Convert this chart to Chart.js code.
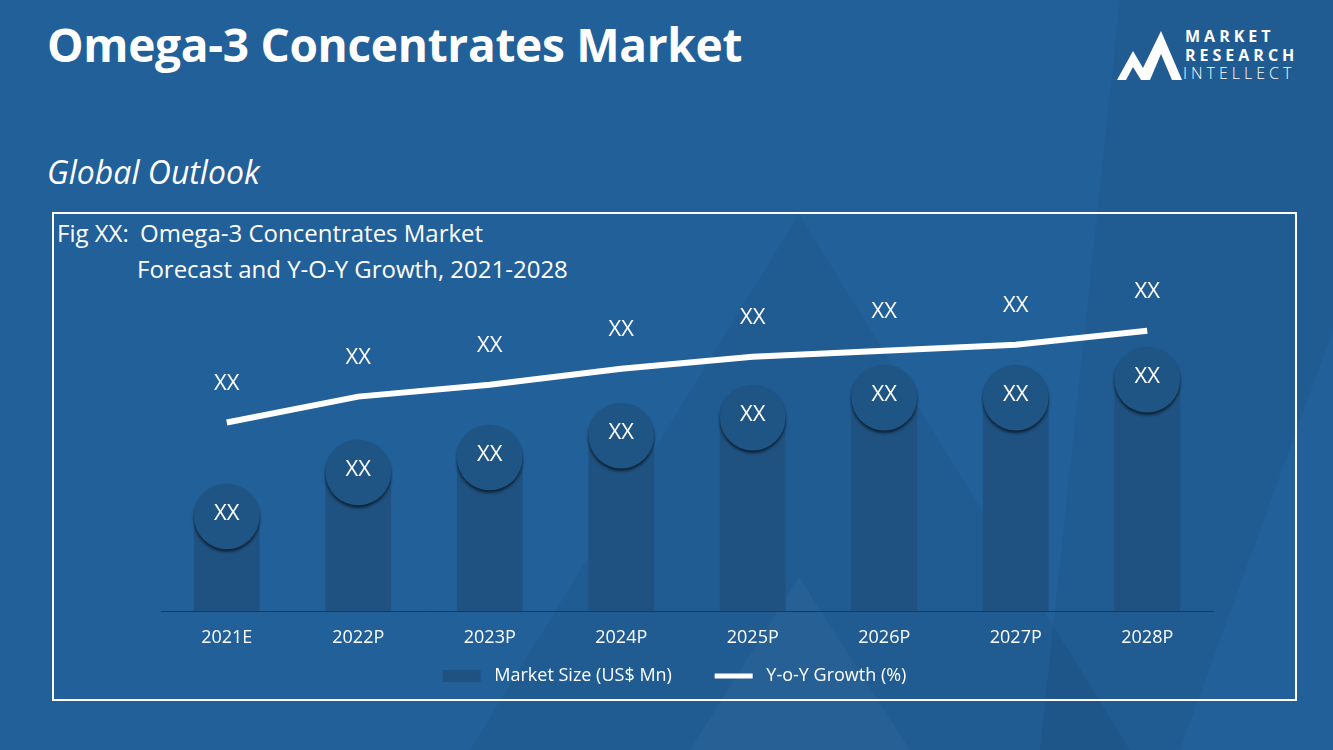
<!DOCTYPE html>
<html><head><meta charset="utf-8">
<script src="https://cdn.jsdelivr.net/npm/chart.js@4.4.0/dist/chart.umd.min.js"></script>
<style>
html,body{margin:0;padding:0;}
body{width:1333px;height:750px;overflow:hidden;background:#22609a;position:relative;font-family:'Open Sans',sans-serif;color:#fff;}
#bg{position:absolute;left:0;top:0;}
.t{position:absolute;white-space:nowrap;line-height:1;}
#title{left:47px;top:21px;font-size:46px;font-weight:700;letter-spacing:-0.3px;}
#sub{left:47px;top:156px;font-size:32px;font-style:italic;font-weight:400;}
#box{position:absolute;left:52px;top:212px;width:1245px;height:489px;border:2px solid #fff;box-sizing:border-box;}
.fig{font-size:24px;}
#logo{position:absolute;left:1110px;top:24px;}
.lg{position:absolute;left:1185px;font-size:16px;letter-spacing:4px;line-height:1;}
#chartWrap{position:absolute;left:52px;top:212px;width:1245px;height:489px;}
</style></head>
<body>
<svg id="bg" width="1333" height="750">
  <polygon points="799,214 470,750 1130,750" fill="#000" opacity="0.05"/>
  <polygon points="799,577 690,750 910,750" fill="#fff" opacity="0.03"/>
  <polygon points="1120,0 1333,0 1333,330 1180,750 1040,750" fill="#000" opacity="0.05"/>
</svg>
<div class="t" id="title">Omega-3 Concentrates Market</div>
<div class="t" id="sub">Global Outlook</div>
<svg id="logo" width="80" height="64">
  <polygon points="7,56 23,27 33,44 51,7 72,56 62,56 51,30 40,56 31,56 23,43 16,56" fill="#fff"/>
</svg>
<div class="t lg" style="top:28px;font-weight:700;">MARKET</div>
<div class="t lg" style="top:47px;font-weight:700;">RESEARCH</div>
<div class="t lg" style="top:65px;font-weight:300;left:1183px;">INTELLECT</div>
<div id="box"></div>
<div class="t fig" style="left:57px;top:221px;">Fig XX:</div>
<div class="t fig" style="left:140px;top:221px;">Omega-3 Concentrates Market</div>
<div class="t fig" style="left:137px;top:257px;">Forecast and Y-O-Y Growth, 2021-2028</div>
<div id="chartWrap"><canvas id="c" width="1245" height="489"></canvas></div>
<script>
const categories = ['2021E','2022P','2023P','2024P','2025P','2026P','2027P','2028P'];
const marketSize = [95,139,154,176,194,214,214,232];
const yoyGrowth = [189,215,227,243,255,261,267,281];
const barLabels = ['XX','XX','XX','XX','XX','XX','XX','XX'];
const lineLabels = ['XX','XX','XX','XX','XX','XX','XX','XX'];
const seriesNames = ['Market Size (US$ Mn)','Y-o-Y Growth (%)'];

const barColor = '#1f5281';
const circleColor = '#1f5585';
const FONT = "'Open Sans', sans-serif";

const circlePlugin = {
  id: 'circles',
  afterDatasetDraw(chart, args) {
    if (args.index !== 0) return;
    const ctx = chart.ctx;
    const meta = chart.getDatasetMeta(0);
    meta.data.forEach((bar, i) => {
      const r = bar.width / 2;
      ctx.save();
      ctx.shadowColor = 'rgba(0,0,0,0.6)';
      ctx.shadowBlur = 3;
      ctx.shadowOffsetY = 2.5;
      ctx.beginPath();
      ctx.arc(bar.x, bar.y, r, 0, Math.PI * 2);
      ctx.fillStyle = circleColor;
      ctx.fill();
      ctx.restore();
      ctx.save();
      ctx.fillStyle = '#fff';
      ctx.font = "22px " + FONT;
      ctx.textAlign = 'center';
      ctx.textBaseline = 'middle';
      ctx.fillText(barLabels[i], bar.x, bar.y - 3);
      ctx.restore();
    });
  },
  afterDatasetsDraw(chart) {
    const ctx = chart.ctx;
    const meta = chart.getDatasetMeta(1);
    meta.data.forEach((pt, i) => {
      ctx.save();
      ctx.fillStyle = '#fff';
      ctx.font = "22px " + FONT;
      ctx.textAlign = 'center';
      ctx.textBaseline = 'middle';
      ctx.fillText(lineLabels[i], pt.x, pt.y - 39);
      ctx.restore();
    });
  }
};

new Chart(document.getElementById('c'), {
  data: {
    labels: categories,
    datasets: [
      { type: 'bar', label: seriesNames[0], data: marketSize, backgroundColor: barColor,
        barPercentage: 0.5, categoryPercentage: 1, order: 2, yAxisID: 'y' },
      { type: 'line', label: seriesNames[1], data: yoyGrowth, borderColor: '#fff', borderWidth: 6,
        pointRadius: 0, tension: 0, fill: false, order: 1, yAxisID: 'y' }
    ]
  },
  options: {
    responsive: false,
    animation: false,
    devicePixelRatio: 1,
    layout: { padding: { left: 20, right: 20, top: 50, bottom: 6 } },
    plugins: {
      tooltip: { enabled: false },
      legend: {
        position: 'bottom',
        labels: {
          color: '#fff',
          font: { size: 18, family: FONT },
          usePointStyle: true,
          pointStyleWidth: 38,
          boxHeight: 12,
          padding: 10,
          generateLabels() {
            return [
              { text: ' ' + seriesNames[0] + '       ', fillStyle: barColor, strokeStyle: barColor, lineWidth: 0, pointStyle: 'rect', datasetIndex: 0, fontColor: '#fff', hidden: false },
              { text: ' ' + seriesNames[1], fillStyle: '#fff', strokeStyle: '#fff', lineWidth: 5, pointStyle: 'line', datasetIndex: 1, fontColor: '#fff', hidden: false }
            ];
          }
        }
      }
    },
    scales: {
      x: {
        grid: { display: false },
        border: { display: true, color: 'rgba(20,55,95,0.9)', width: 1 },
        ticks: { color: '#fff', font: { size: 18, family: FONT }, padding: 8 },
        afterFit(s) { s.height = 46; }
      },
      y: {
        position: 'left', min: 0, max: 350,
        ticks: { display: false }, grid: { display: false }, border: { display: false },
        afterFit(s) { s.width = 89; }
      },
      y1: {
        type: 'linear', position: 'right', min: 0, max: 350,
        ticks: { display: false }, grid: { display: false }, border: { display: false },
        afterFit(s) { s.width = 64; }
      }
    }
  },
  plugins: [circlePlugin]
});
</script>
</body></html>
